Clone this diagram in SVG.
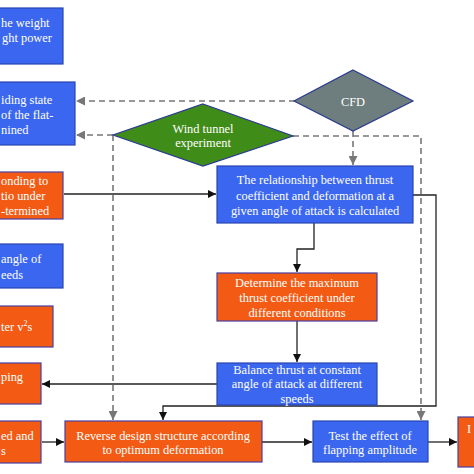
<svg xmlns="http://www.w3.org/2000/svg" width="474" height="474" viewBox="0 0 474 474">
<style>
.blue{fill:#3b67f0;stroke:#2a45b0;stroke-width:1.2}
.orange{fill:#f35b14;stroke:#4a3fa0;stroke-width:1.2}
.t{font-family:"Liberation Serif","Times New Roman",serif;font-size:12.4px;fill:#ffffff}
.c{text-anchor:middle}
.solid{fill:none;stroke:#222;stroke-width:1.3}
.dash{fill:none;stroke:#777;stroke-width:1.6;stroke-dasharray:6 4}
</style>
<defs>
<marker id="ab" viewBox="0 0 10 10" refX="10" refY="5" markerWidth="8" markerHeight="8" markerUnits="userSpaceOnUse" orient="auto"><path d="M0,0 L10,5 L0,10 z" fill="#111"/></marker>
<marker id="ag" viewBox="0 0 10 10" refX="10" refY="5" markerWidth="9" markerHeight="9" markerUnits="userSpaceOnUse" orient="auto"><path d="M0,0 L10,5 L0,10 z" fill="#777"/></marker>
</defs>
<rect width="474" height="474" fill="#ffffff"/>
<g id="connectors">
<path class="dash" d="M295,101 H76" marker-end="url(#ag)"/>
<path class="dash" d="M113,135 H76" marker-end="url(#ag)"/>
<path class="dash" d="M113,135 V420" marker-end="url(#ag)"/>
<path class="dash" d="M353,131 V165" marker-end="url(#ag)"/>
<path class="dash" d="M293,136 H421 V420" marker-end="url(#ag)"/>
<path class="solid" d="M64,194 H216" marker-end="url(#ab)"/>
<path class="solid" d="M314,223 V249 H297 V272" marker-end="url(#ab)"/>
<path class="solid" d="M297,321 V362" marker-end="url(#ab)"/>
<path class="solid" d="M217,384 H42" marker-end="url(#ab)"/>
<path class="solid" d="M413,195 H436 V406 H163 V420" marker-end="url(#ab)"/>
<path class="solid" d="M42,442 H64" marker-end="url(#ab)"/>
<path class="solid" d="M262,442 H312" marker-end="url(#ab)"/>
<path class="solid" d="M428,442 H457" marker-end="url(#ab)"/>
</g>
<g id="box1"><rect class="blue" x="-5" y="8" width="68" height="56"/><text class="t" x="1" y="27">he weight</text><text class="t" x="2" y="42">ght power</text></g>
<g id="box2"><rect class="blue" x="-5" y="82" width="80" height="63"/><text class="t" x="1" y="104">iding state</text><text class="t" x="1" y="119">of the flat-</text><text class="t" x="1" y="134">nined</text></g>
<g id="box3"><rect class="orange" x="-5" y="172" width="68" height="47"/><text class="t" x="1" y="185">onding to</text><text class="t" x="1" y="200">tio under</text><text class="t" x="1" y="215">-termined</text></g>
<g id="box4"><rect class="blue" x="-5" y="244" width="68" height="44"/><text class="t" x="1" y="263">angle of</text><text class="t" x="1" y="279">eeds</text></g>
<g id="box5"><rect class="orange" x="-5" y="306" width="58" height="41"/><text class="t" x="1" y="331">ter v<tspan font-size="8" dy="-5">2</tspan><tspan dy="5">s</tspan></text></g>
<g id="box6"><rect class="orange" x="-5" y="363" width="46" height="41"/><text class="t" x="1" y="381">ping</text></g>
<g id="box7"><rect class="orange" x="-5" y="421" width="46" height="42"/><text class="t" x="1" y="440">ed and</text><text class="t" x="1" y="455">s</text></g>
<g id="cfd"><polygon points="353,70 413,101 353,131 294,101" fill="#6e7d7d" stroke="#2a3a90" stroke-width="1.2"/><text class="t c" x="353" y="106">CFD</text></g>
<g id="wind"><polygon points="203,104 293,136 203,166 113,135" fill="#3f8c18" stroke="#2a3a90" stroke-width="1.2"/><text class="t c" x="203" y="133">Wind tunnel</text><text class="t c" x="203" y="147">experiment</text></g>
<g id="relationship"><rect class="blue" x="217" y="166" width="196" height="57"/><text class="t c" x="315" y="184">The relationship between thrust</text><text class="t c" x="315" y="200">coefficient and deformation at a</text><text class="t c" x="315" y="215">given angle of attack is calculated</text></g>
<g id="determine"><rect class="orange" x="217" y="273" width="160" height="48"/><text class="t c" x="297" y="287">Determine the maximum</text><text class="t c" x="297" y="302">thrust coefficient under</text><text class="t c" x="297" y="317">different conditions</text></g>
<g id="balance"><rect class="blue" x="217" y="363" width="160" height="42"/><text class="t c" x="297" y="374">Balance thrust at constant</text><text class="t c" x="297" y="388">angle of attack at different</text><text class="t c" x="297" y="403">speeds</text></g>
<g id="reverse"><rect class="orange" x="65" y="421" width="197" height="41"/><text class="t c" x="163" y="440">Reverse design structure according</text><text class="t c" x="163" y="454">to optimum deformation</text></g>
<g id="test"><rect class="blue" x="313" y="421" width="115" height="41"/><text class="t c" x="370" y="440">Test the effect of</text><text class="t c" x="370" y="454">flapping amplitude</text></g>
<g id="right"><rect class="orange" x="458" y="417" width="25" height="50"/><text class="t" x="467" y="433">I</text></g>
</svg>
